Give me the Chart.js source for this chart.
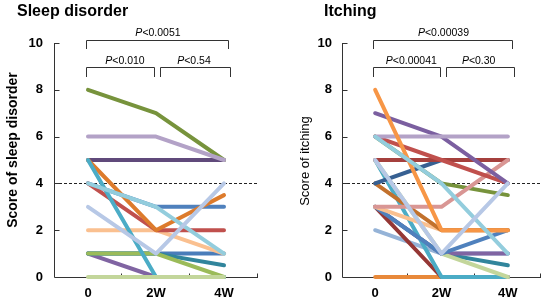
<!DOCTYPE html>
<html>
<head>
<meta charset="utf-8">
<script src="https://cdn.jsdelivr.net/npm/chart.js@4.4.0/dist/chart.umd.min.js"></script>
<style>
  html, body { margin: 0; padding: 0; background: #fff; }
  #wrap { position: relative; width: 548px; height: 302px; }
  canvas { position: absolute; top: 0; }
  #sleep { left: 0; }
  #itch { left: 274px; }
</style>
</head>
<body>
<div id="wrap">
  <canvas id="sleep" width="274" height="302"></canvas>
  <canvas id="itch" width="274" height="302"></canvas>
</div>
<script>
const weeks = ['0', '2W', '4W'];
const yMin = 0;
const yMax = 10;
const yStep = 2;
const cutoff = 4;

// Sleep disorder : une ligne par patient (0, 2W, 4W), la première est dessinée au-dessus
const sleepScores = [
  [3, 1, 4],
  [4, 3, 1],
  [0, 0, 0],
  [5, 0, 0],
  [5, 2, 3.5],
  [4, 2, 2],
  [2, 2, 1],
  [4, 3, 3],
  [1, 1, 0],
  [1, 1, 0.5],
  [1, 1, 1],
  [1, 0, 0],
  [6, 6, 5],
  [8, 7, 5],
  [5, 5, 5]
];
const sleepColors = ['#B7C8E6', '#93CDDD', '#C3D69B', '#4BACC6', '#DD7B2C', '#C0504D', '#FAC090',
  '#4F81BD', '#9BBB59', '#31859C', '#4A7DBA', '#8064A2', '#B3A2C7', '#77933C', '#604A7B'];
const sleepP = ['0.0051', '0.010', '0.54']; // 0-4W, 0-2W, 2W-4W

// Itching
const itchScores = [
  [5, 1, 4],
  [6, 4, 1],
  [8, 2, 2],
  [6, 6, 6],
  [7, 6, 4],
  [6, 5, 4],
  [3, 3, 5],
  [5, 5, 5],
  [4, 5, 5],
  [6, 4, 3.5],
  [4, 2, 2],
  [3, 2, 2],
  [3, 1, 2],
  [5, 1, 0],
  [5, 0, 0],
  [3, 0, 0],
  [0, 0, 0],
  [3, 1, 1],
  [3, 1, 0.5],
  [2, 1, 1]
];
const itchColors = ['#B7C8E6', '#93CDDD', '#F79646', '#B3A2C7', '#7B5FA0', '#C0504D', '#D99694',
  '#A5403D', '#376092', '#77933C', '#C2712C', '#FAC090', '#4F81BD', '#C3D69B', '#4BACC6',
  '#953735', '#E8893A', '#8064A2', '#31859C', '#95B3D7'];
const itchP = ['0.00039', '0.00041', '0.30'];

const FONT = '"Liberation Sans", Arial, sans-serif';
Chart.defaults.font.family = FONT;
Chart.defaults.color = '#000';

function drawP(ctx, value, cx, cy) {
  ctx.font = 'italic 10.5px ' + FONT;
  const wP = ctx.measureText('P').width;
  ctx.font = '10.5px ' + FONT;
  const wRest = ctx.measureText('<' + value).width;
  const x0 = cx - (wP + wRest) / 2;
  ctx.textBaseline = 'middle';
  ctx.textAlign = 'left';
  ctx.font = 'italic 10.5px ' + FONT;
  ctx.fillText('P', x0, cy);
  ctx.font = '10.5px ' + FONT;
  ctx.fillText('<' + value, x0 + wP, cy);
}

function bracket(ctx, x1, x2, y, h) {
  ctx.beginPath();
  ctx.moveTo(x1 + 0.5, y + h);
  ctx.lineTo(x1 + 0.5, y + 0.5);
  ctx.lineTo(x2 + 0.5, y + 0.5);
  ctx.lineTo(x2 + 0.5, y + h);
  ctx.stroke();
}

const panelPlugin = {
  id: 'panel',
  beforeDatasetsDraw(chart, args, opts) {
    const { ctx, chartArea: a, scales: { x, y } } = chart;
    ctx.save();
    // ligne pointillée au seuil
    ctx.strokeStyle = '#222';
    ctx.lineWidth = 1;
    ctx.setLineDash([3, 2]);
    const yc = Math.round(y.getPixelForValue(cutoff)) + 0.5;
    ctx.beginPath();
    ctx.moveTo(a.left, yc);
    ctx.lineTo(a.right, yc);
    ctx.stroke();
    ctx.setLineDash([]);

    // axes avec graduations vers l'intérieur
    ctx.strokeStyle = '#333';
    const left = Math.round(a.left) + 0.5;
    const bottom = Math.round(a.bottom) + 0.5;
    ctx.beginPath();
    ctx.moveTo(left, Math.round(y.getPixelForValue(yMax)));
    ctx.lineTo(left, bottom);
    ctx.lineTo(Math.round(a.right), bottom);
    for (let v = yMin + yStep; v <= yMax; v += yStep) {
      const py = Math.round(y.getPixelForValue(v)) + 0.5;
      ctx.moveTo(left, py);
      ctx.lineTo(left + 5, py);
    }
    const step = x.getPixelForValue(1) - x.getPixelForValue(0);
    for (let i = 0; i < weeks.length; i++) {
      const px = Math.round(x.getPixelForValue(i) + step / 2) - 0.5;
      ctx.moveTo(px, bottom);
      ctx.lineTo(px, bottom - 4);
    }
    ctx.stroke();
    ctx.restore();
  },
  afterDraw(chart, args, opts) {
    const { ctx, chartArea: a, scales: { x } } = chart;
    const x0 = x.getPixelForValue(0);
    const x1 = x.getPixelForValue(1);
    const x2 = x.getPixelForValue(2);
    ctx.save();
    ctx.fillStyle = '#000';
    // titre du panneau
    ctx.font = 'bold 16px ' + FONT;
    ctx.textBaseline = 'alphabetic';
    ctx.textAlign = 'left';
    ctx.fillText(opts.title, opts.titleX, 16);

    // titre de l'axe Y
    ctx.save();
    ctx.translate(opts.yTitleX, opts.yTitleY);
    ctx.rotate(-Math.PI / 2);
    ctx.font = opts.yTitleFont + FONT;
    ctx.textAlign = 'center';
    ctx.textBaseline = 'middle';
    ctx.fillText(opts.yTitle, 0, 0);
    ctx.restore();

    // crochets des valeurs P
    ctx.strokeStyle = '#333';
    ctx.lineWidth = 1;
    const t = a.top;
    bracket(ctx, Math.round(x0 - 2), Math.round(x2 + 4), t - 3, 9);
    bracket(ctx, Math.round(x0 - 2), Math.round(x1 - 2), t + 24, 10);
    bracket(ctx, Math.round(x1 + 4), Math.round(x2 + 6), t + 24, 10);
    drawP(ctx, opts.p[0], (x0 + x2) / 2 + 2, t - 10);
    drawP(ctx, opts.p[1], (x0 + x1) / 2 + 3, t + 18);
    drawP(ctx, opts.p[2], (x1 + x2) / 2 + 4, t + 18);
    ctx.restore();
  }
};

function makePanel(id, scores, colors, panelOpts, padLeft, padRight, yWidth, tickPad) {
  const datasets = scores.map((s, i) => ({
    data: s,
    borderColor: colors[i],
    borderWidth: 4,
    pointRadius: 0,
    tension: 0,
    fill: false,
    clip: false,
    borderCapStyle: 'round',
    borderJoinStyle: 'round'
  }));
  return new Chart(document.getElementById(id), {
    type: 'line',
    data: { labels: weeks, datasets: datasets },
    options: {
      responsive: false,
      animation: false,
      events: [],
      devicePixelRatio: 1,
      layout: { padding: { top: 43, bottom: 0, left: padLeft, right: padRight } },
      plugins: { legend: { display: false }, tooltip: { enabled: false }, panel: panelOpts },
      scales: {
        x: {
          type: 'category',
          offset: true,
          grid: { display: false, drawTicks: false },
          border: { display: false },
          ticks: { padding: 9, color: '#000', font: { size: 13, weight: 'bold' } },
          afterFit(scale) { scale.height = 25; }
        },
        y: {
          min: yMin,
          max: yMax,
          grid: { display: false, drawTicks: false },
          border: { display: false },
          ticks: { stepSize: yStep, padding: tickPad, color: '#000', font: { size: 13, weight: 'bold' } },
          afterFit(scale) { scale.width = yWidth; }
        }
      }
    },
    plugins: [panelPlugin]
  });
}

makePanel('sleep', sleepScores, sleepColors, {
  title: 'Sleep disorder', titleX: 17,
  yTitle: 'Score of sleep disorder', yTitleFont: 'bold 14px ', yTitleX: 13, yTitleY: 150,
  p: sleepP
}, 0, 16, 54, 11);

makePanel('itch', itchScores, itchColors, {
  title: 'Itching', titleX: 50,
  yTitle: 'Score of itching', yTitleFont: '13px ', yTitleX: 31, yTitleY: 161,
  p: itchP
}, 20, 7, 48, 10);
</script>
</body>
</html>
